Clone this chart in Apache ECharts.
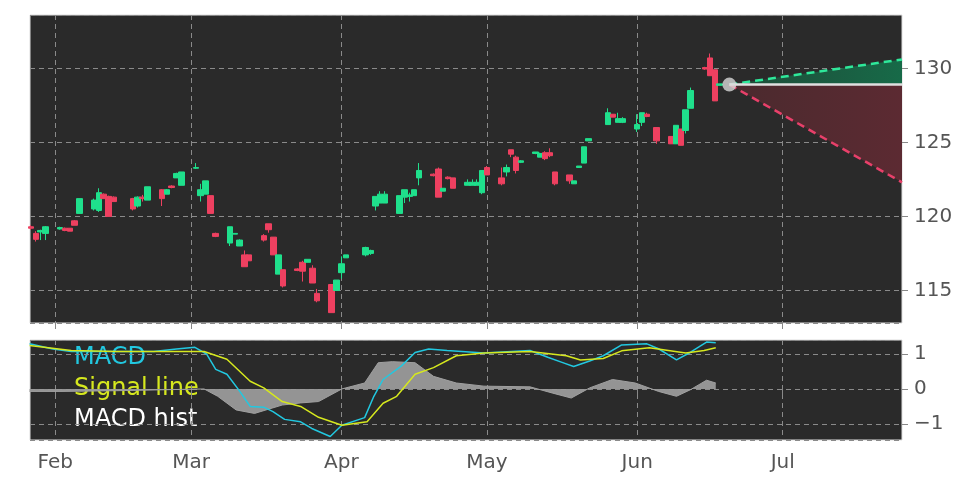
<!DOCTYPE html>
<html><head><meta charset="utf-8">
<script src="https://cdn.jsdelivr.net/npm/echarts@6/dist/echarts.min.js"></script>
<style>html,body{margin:0;background:#fff}#c{width:972px;height:486px}</style>
</head><body><div id="c"></div>
<script>
// day of year (2022), open, close, low, high
const days = [27,28,29,30,33,34,35,36,37,40,41,42,43,44,48,49,50,51,54,55,56,57,58,61,62,63,64,65,68,69,70,71,72,75,76,77,78,79,82,83,84,85,86,89,90,91,92,96,97,98,99,100,103,104,105,106,107,110,111,112,113,114,117,118,119,120,121,124,125,126,127,128,131,132,133,134,135,138,139,140,141,142,146,147,148,149,152,153,154,156,159,160,161,162,163,166,167,168,169];
const ohlc = [
[119.3,119.2,119.1,119.4],[118.85,118.45,118.3,119.0],[118.95,119.05,118.4,119.1],[118.85,119.3,118.4,119.35],
[119.15,119.25,119.1,119.3],[119.2,119.05,119.0,119.25],[119.2,119.0,119.0,119.2],[119.7,119.4,119.4,119.75],[120.2,121.2,120.2,121.2],
[120.5,121.1,120.4,121.2],[120.4,121.6,120.3,121.9],[121.5,121.2,121.2,121.55],[121.35,120.0,120.0,121.4],[121.3,121.0,121.0,121.35],
[121.2,120.5,120.4,121.25],[120.7,121.3,120.6,121.35],[121.3,121.2,121.0,121.45],[121.1,122.0,121.1,122.0],
[121.8,121.2,120.7,121.85],[121.5,121.8,121.5,121.85],[122.05,121.95,121.9,122.1],[122.6,122.9,122.6,122.95],[122.1,123.0,122.1,123.0],
[123.25,123.3,123.2,123.6],[121.4,121.8,121.0,122.2],[121.5,122.4,121.5,122.4],[121.4,120.2,120.2,121.4],[118.85,118.65,118.6,118.9],
[118.2,119.3,118.0,119.3],[118.8,118.85,118.8,118.85],[118.0,118.4,118.0,118.45],[117.4,116.6,116.6,117.7],[117.4,117.0,117.0,117.4],
[118.7,118.4,118.3,118.8],[119.5,119.1,118.9,119.5],[118.6,117.4,117.4,118.6],[116.1,117.4,116.1,117.4],[116.4,115.3,115.2,116.4],
[116.45,116.35,116.3,116.5],[116.9,116.3,115.6,117.0],[116.9,117.1,116.9,117.1],[116.5,115.5,115.5,116.7],[114.8,114.3,114.2,115.1],
[115.4,113.5,113.5,115.4],[115.0,115.7,115.0,115.7],[116.2,116.8,115.8,117.3],[117.2,117.4,117.2,117.4],
[117.4,117.9,117.3,117.95],[117.5,117.7,117.4,117.75],[120.7,121.35,120.4,121.35],[120.9,121.5,120.9,121.7],[120.9,121.5,120.9,121.7],
[120.2,121.4,120.2,121.4],[121.3,121.8,120.9,121.8],[121.35,121.45,121.0,121.6],[121.4,121.8,121.4,121.8],[122.6,123.1,122.1,123.6],
[122.85,122.75,122.7,122.9],[123.2,121.3,121.3,123.3],[121.7,121.9,121.7,121.9],[122.65,122.55,122.5,122.7],[122.6,121.9,121.9,122.6],
[122.1,122.3,122.1,122.5],[122.1,122.3,122.1,122.5],[122.1,122.3,122.1,122.5],[121.6,123.1,121.5,123.1],[123.3,122.8,122.8,123.4],
[122.6,122.2,122.1,123.3],[123.0,123.3,122.7,123.5],[124.5,124.2,124.0,124.5],[124.0,123.1,122.9,124.1],[123.65,123.75,123.6,123.8],
[124.25,124.35,124.2,124.35],[124.0,124.25,124.0,124.3],[124.3,123.9,123.8,124.4],[124.3,124.1,124.0,124.6],[123.0,122.2,122.1,123.0],
[122.8,122.4,122.2,122.8],[122.2,122.4,122.2,122.4],[123.3,123.4,123.3,123.4],[123.6,124.7,123.6,124.7],[125.1,125.25,125.1,125.25],
[126.2,127.0,126.2,127.3],[126.9,126.7,126.7,126.9],[126.35,126.6,126.35,127.0],[126.35,126.6,126.3,126.7],
[125.9,126.2,125.7,126.9],[126.35,127.0,126.1,127.0],[126.9,126.75,126.7,127.0],[126.0,125.1,124.9,126.0],
[125.4,124.9,124.9,125.4],[124.9,126.15,124.9,126.15],[125.9,124.8,124.8,125.9],[125.8,127.2,125.6,127.2],[127.3,128.5,127.3,128.7],
[130.05,129.95,129.9,130.1],[130.7,129.5,129.5,131.0],[129.9,127.8,127.8,129.9],[128.85,128.95,128.85,128.95]
];
const lastDay = 171, lastPrice = 128.9, endDay = 206.6;
const fcUpper = [[lastDay, lastPrice], [endDay, 130.6]];
const fcLower = [[lastDay, lastPrice], [endDay, 122.3]];
const fcFlat = [[lastDay, lastPrice], [endDay, lastPrice]];

const macd = [[26.7,1.29],[31.5,1.14],[35.3,1.07],[44.7,1.07],[52.3,1.07],[57,1.14],[60.8,1.19],[63.2,1.0],[65.1,0.56],[67.4,0.42],[69.8,-0.02],[72.2,-0.5],[75,-0.52],[76.9,-0.65],[79.3,-0.87],[82.6,-0.94],[84.9,-1.13],[88.7,-1.36],[91.1,-1.04],[95.8,-0.82],[97.7,-0.21],[99.6,0.27],[103.4,0.66],[106.2,1.04],[109,1.14],[112.8,1.1],[120.4,1.03],[129.9,1.1],[133.7,0.9],[136.5,0.76],[138.9,0.64],[142.2,0.8],[145,0.95],[148.8,1.26],[154,1.29],[156.4,1.15],[160.1,0.83],[163,1.05],[166.3,1.34],[168.2,1.32]];
const signal = [[26.7,1.24],[35.3,1.1],[44.7,1.07],[54.2,1.07],[62.7,1.07],[67.4,0.85],[72.2,0.22],[75,0.03],[78.8,-0.36],[82.6,-0.5],[86.3,-0.81],[91.1,-1.04],[96.3,-0.94],[99.6,-0.41],[102.4,-0.21],[106.2,0.42],[110,0.61],[114.7,0.95],[120.4,1.03],[129.9,1.07],[137.4,0.95],[140.3,0.83],[145,0.87],[148.8,1.09],[154.5,1.18],[162,1.03],[165.8,1.1],[168.2,1.18]];
const hist = [[26.7,-0.07],[33.4,-0.07],[44.7,-0.05],[62.7,0],[65.5,-0.21],[69.3,-0.6],[73.1,-0.7],[78.8,-0.46],[82.6,-0.4],[86.3,-0.36],[91.1,0],[95.8,0.17],[98.6,0.75],[101.5,0.78],[106.2,0.75],[110,0.36],[114.7,0.17],[120.4,0.08],[129.9,0.06],[134.6,-0.12],[138.4,-0.26],[142.2,0.03],[146.9,0.27],[151.6,0.17],[156.4,-0.07],[160.1,-0.21],[163,-0.02],[166.3,0.25],[168.2,0.17]];

const monthDays = [32, 60, 91, 121, 152, 182];
const monthNames = ['Feb', 'Mar', 'Apr', 'May', 'Jun', 'Jul'];

const up = '#1fe08c', down = '#ee4060';
const gridLine = { show: true, lineStyle: { color: '#8a8a8a', type: [5, 4], width: 1 } };
const lbl = { color: '#555', fontSize: 20, fontFamily: 'DejaVu Sans' };

function xAxis(gi, labels) {
  return {
    type: 'value', gridIndex: gi, min: 26.8, max: endDay,
    axisLine: { show: false },
    axisTick: { show: true, customValues: monthDays, length: 6, lineStyle: { color: '#888' } },
    splitLine: gridLine,
    axisLabel: labels ? Object.assign({ customValues: monthDays, margin: 13,
      formatter: v => monthNames[monthDays.indexOf(Math.round(v))] || '' }, lbl) : { show: false }
  };
}

const chart = echarts.init(document.getElementById('c'));
chart.setOption({
  animation: false,
  backgroundColor: '#fff',
  grid: [
    { left: 30, right: 70, top: 15, height: 308, show: true, backgroundColor: '#2a2a2a', borderColor: '#ddd', borderWidth: 1 },
    { left: 30, right: 70, top: 340, height: 100, show: true, backgroundColor: '#2a2a2a', borderColor: '#ddd', borderWidth: 1 }
  ],
  xAxis: [xAxis(0, false), xAxis(1, true)],
  yAxis: [
    { type: 'value', gridIndex: 0, position: 'right', min: 112.8, max: 133.6, splitNumber: 4,
      axisLine: { show: false }, axisTick: { show: true, length: 6, lineStyle: { color: '#888' } },
      splitLine: gridLine,
      axisLabel: Object.assign({ showMinLabel: false, showMaxLabel: false, margin: 12 }, lbl) },
    { type: 'value', gridIndex: 1, position: 'right', min: -1.46, max: 1.4, splitNumber: 3,
      axisLine: { show: false }, axisTick: { show: true, length: 6, lineStyle: { color: '#888' } },
      splitLine: gridLine,
      axisLabel: Object.assign({ showMinLabel: false, showMaxLabel: false, margin: 12,
        formatter: v => (v < 0 ? '\u2212' + (-v) : '' + v) }, lbl) }
  ],
  series: [
    { type: 'candlestick', xAxisIndex: 0, yAxisIndex: 0, barWidth: 6,
      data: days.map((d, i) => [d].concat(ohlc[i])), encode: { x: 0, y: [1, 2, 3, 4] },
      itemStyle: { color: up, color0: down, borderColor: up, borderColor0: down, borderWidth: 1 } },
    { type: 'line', data: fcUpper, symbol: 'none', xAxisIndex: 0, yAxisIndex: 0,
      lineStyle: { color: '#2ee89a', width: 2.5, type: [8, 5] },
      areaStyle: { origin: lastPrice, opacity: 1, color: new echarts.graphic.LinearGradient(0, 0, 1, 0, [{ offset: 0, color: '#1f4a38' }, { offset: 1, color: '#176a48' }]) } },
    { type: 'line', data: fcLower, symbol: 'none', xAxisIndex: 0, yAxisIndex: 0,
      lineStyle: { color: '#e8406a', width: 2.5, type: [8, 5] },
      areaStyle: { origin: lastPrice, opacity: 1, color: new echarts.graphic.LinearGradient(0, 0, 1, 0, [{ offset: 0, color: '#4a2a2e' }, { offset: 1, color: '#5c2a32' }]) } },
    { type: 'line', data: fcFlat, xAxisIndex: 0, yAxisIndex: 0, symbol: 'none',
      lineStyle: { color: '#e0e0e0', width: 2.5 } },
    { type: 'scatter', data: [[lastDay, lastPrice]], xAxisIndex: 0, yAxisIndex: 0, symbolSize: 14,
      itemStyle: { color: '#d8d8d8' }, z: 5 },
    { type: 'line', data: hist, xAxisIndex: 1, yAxisIndex: 1, symbol: 'none',
      lineStyle: { color: '#a0a0a0', width: 1 }, areaStyle: { color: '#9a9a9a', opacity: 0.95, origin: 0 } },
    { type: 'line', data: macd, xAxisIndex: 1, yAxisIndex: 1, symbol: 'none', lineStyle: { color: '#22c8e0', width: 1.5 } },
    { type: 'line', data: signal, xAxisIndex: 1, yAxisIndex: 1, symbol: 'none', lineStyle: { color: '#d6e81e', width: 1.5 } }
  ],
  graphic: [
    { type: 'text', left: 74, top: 346, style: { text: 'MACD', fill: '#22c8e0', fontSize: 24, fontFamily: 'DejaVu Sans' } },
    { type: 'text', left: 74, top: 377, style: { text: 'Signal line', fill: '#d6e81e', fontSize: 24, fontFamily: 'DejaVu Sans' } },
    { type: 'text', left: 74, top: 408, style: { text: 'MACD hist', fill: '#ffffff', fontSize: 24, fontFamily: 'DejaVu Sans' } }
  ]
});
</script></body></html>
